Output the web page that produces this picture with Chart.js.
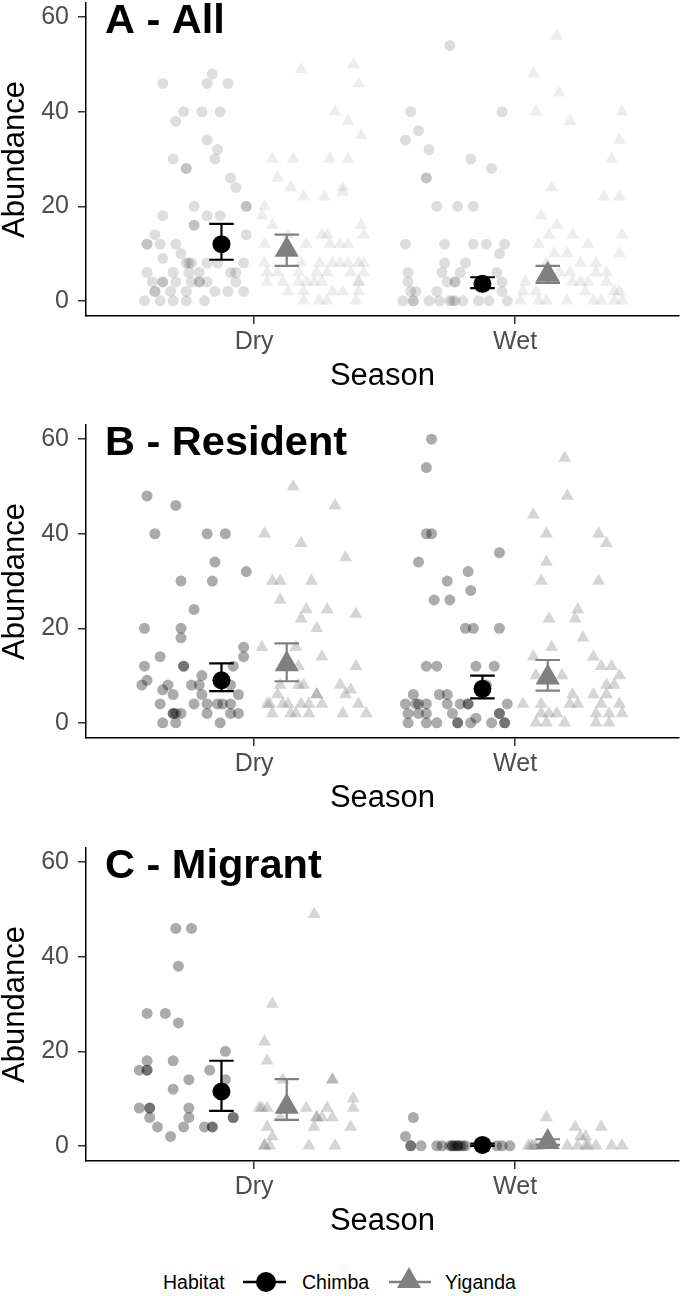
<!DOCTYPE html>
<html>
<head>
<meta charset="utf-8">
<script src="https://cdn.jsdelivr.net/npm/chart.js@4.4.1/dist/chart.umd.min.js"></script>
<style>
  body { margin: 0; background: #fff; width: 685px; height: 1296px; position: relative; overflow: hidden;
         font-family: "Liberation Sans", Arial, sans-serif; }
  .panel { position: absolute; left: 0; }
  .leg { position: absolute; font-size: 19.5px; line-height: 20px; color: #000; }
  .legsym { position: absolute; }
</style>
</head>
<body>
<canvas class="panel" id="panelA" width="685" height="410" style="top:0px"></canvas>
<canvas class="panel" id="panelB" width="685" height="410" style="top:422px"></canvas>
<canvas class="panel" id="panelC" width="685" height="410" style="top:845px"></canvas>

<span class="leg" style="left:163px; top:1272px">Habitat</span>
<svg class="legsym" style="left:240px; top:1270px" width="50" height="24">
  <line x1="3" y1="12" x2="46" y2="12" stroke="#000" stroke-width="2.5"/>
  <circle cx="26" cy="12" r="10" fill="#000"/>
</svg>
<span class="leg" style="left:302px; top:1272px">Chimba</span>
<svg class="legsym" style="left:385px; top:1266px" width="50" height="28">
  <line x1="4" y1="16" x2="46" y2="16" stroke="#808080" stroke-width="2.5"/>
  <polygon points="24,1 36,22 12,22" fill="#808080"/>
</svg>
<span class="leg" style="left:445px; top:1272px">Yiganda</span>

<script>
const seasons = ['Dry', 'Wet'];
const habitats = ['Chimba', 'Yiganda'];
const yTicks = [0, 20, 40, 60];
const panelTitles = ['A - All', 'B - Resident', 'C - Migrant'];
const dodge = 0.125;

// observations as [jittered x, abundance]; Dry sits at x=1, Wet at x=2

// A - all species
const allChimba = [
  [0.65,46],[0.84,48],[0.82,46],[0.90,46],[0.73,40],[0.70,38],[0.80,40],[0.87,40],[0.82,34],[0.86,32],
  [0.69,30],[0.85,30],[0.74,28],[0.74,28],[0.91,26],[0.93,24],[0.77,20],[0.97,20],[0.97,20],[0.65,18],
  [0.82,18],[0.87,18],[0.77,16],[0.77,16],[0.62,14],[0.97,14],[0.59,12],[0.59,12],[0.64,12],[0.70,12],
  [0.72,10],[0.65,9],[0.74,8],[0.75,8],[0.76,8],[0.82,8],[0.86,8],[0.96,8],[0.59,6],[0.69,6],
  [0.75,6],[0.79,6],[0.91,6],[0.93,6],[0.61,4],[0.65,4],[0.65,4],[0.70,4],[0.76,4],[0.79,4],
  [0.79,4],[0.82,4],[0.93,4],[0.62,2],[0.62,2],[0.68,2],[0.74,2],[0.85,2],[0.90,2],[0.96,2],
  [0.58,0],[0.64,0],[0.69,0],[0.74,0],[0.81,0],
  [1.75,54],[1.60,40],[1.95,40],[1.63,36],[1.58,34],[1.67,32],[1.83,30],[1.91,28],[1.66,26],[1.66,26],
  [1.70,20],[1.78,20],[1.84,20],[1.58,12],[1.73,12],[1.84,12],[1.89,12],[1.96,12],[1.94,10],[1.73,8],
  [1.81,8],[1.59,6],[1.72,6],[1.79,6],[1.93,6],[1.59,4],[1.74,4],[1.77,4],[1.77,4],[1.95,4],
  [1.60,2],[1.62,2],[1.70,2],[1.95,2],[1.57,0],[1.61,0],[1.61,0],[1.67,0],[1.71,0],[1.75,0],
  [1.76,0],[1.77,0],[1.80,0],[1.86,0],[1.90,0],[1.97,0]
];
const allYiganda = [
  [1.18,49],[1.38,50],[1.40,46],[1.31,40],[1.36,38],[1.41,35],[1.07,30],[1.15,30],[1.29,30],[1.36,30],
  [1.09,26],[1.14,24],[1.34,24],[1.19,22],[1.27,22],[1.34,23],[1.04,20],[1.03,18],[1.07,16],[1.41,16],
  [1.13,14],[1.26,14],[1.28,14],[1.42,14],[1.04,12],[1.20,12],[1.29,12],[1.33,12],[1.36,12],[1.04,8],
  [1.18,8],[1.25,8],[1.30,8],[1.33,8],[1.36,8],[1.40,8],[1.42,8],[1.05,6],[1.09,6],[1.17,6],
  [1.24,6],[1.28,6],[1.37,6],[1.42,6],[1.05,4],[1.11,4],[1.17,4],[1.20,4],[1.23,4],[1.26,4],
  [1.40,4],[1.40,4],[1.13,2],[1.19,2],[1.30,2],[1.34,2],[1.40,2],[1.19,0],[1.25,0],[1.28,0],[1.39,0],
  [2.16,56],[2.07,48],[2.17,44],[2.08,40],[2.21,38],[2.41,40],[2.40,34],[2.37,30],[2.14,24],[2.34,22],
  [2.40,22],[2.10,18],[2.16,16],[2.13,14],[2.22,14],[2.41,14],[2.09,12],[2.28,12],[2.15,10],[2.20,10],
  [2.40,10],[2.12,8],[2.25,8],[2.31,8],[2.17,6],[2.21,6],[2.31,6],[2.35,6],[2.04,4],[2.22,4],
  [2.25,4],[2.28,4],[2.35,4],[2.03,2],[2.08,2],[2.27,2],[2.38,2],[2.40,2],[2.02,0],[2.09,0],
  [2.12,0],[2.20,0],[2.30,0],[2.33,0],[2.38,0],[2.41,0]
];
const allChimbaMean = [12.0, 3.6];
const allChimbaLow = [8.7, 2.7];
const allChimbaHigh = [16.3, 5.0];
const allYigandaMean = [10.8, 5.5];
const allYigandaLow = [7.4, 3.8];
const allYigandaHigh = [14.0, 7.4];

// B - resident species
const resChimba = [
  [0.59,48],[0.70,46],[0.62,40],[0.82,40],[0.89,40],[0.85,34],[0.97,32],[0.72,30],[0.84,30],[0.77,24],
  [0.58,20],[0.72,20],[0.72,18],[0.96,16],[0.64,14],[0.96,14],[0.58,12],[0.73,12],[0.73,12],[0.92,12],
  [0.80,10],[0.59,9],[0.57,8],[0.67,8],[0.76,8],[0.79,8],[0.91,8],[0.65,7],[0.69,6],[0.80,6],
  [0.94,6],[0.64,4],[0.77,4],[0.82,4],[0.86,4],[0.88,4],[0.91,4],[0.69,2],[0.69,2],[0.70,2],
  [0.72,2],[0.82,2],[0.91,2],[0.94,2],[0.65,0],[0.70,0],[0.87,0],
  [1.68,60],[1.66,54],[1.66,40],[1.68,40],[1.63,34],[1.94,36],[1.82,32],[1.74,30],[1.83,28],[1.69,26],
  [1.75,26],[1.81,20],[1.84,20],[1.94,20],[1.66,12],[1.70,12],[1.85,12],[1.92,12],[1.89,8],[1.61,6],
  [1.71,6],[1.74,6],[1.58,4],[1.62,4],[1.63,4],[1.66,4],[1.74,4],[1.79,4],[1.82,4],[1.82,4],
  [1.97,4],[1.59,2],[1.63,2],[1.66,2],[1.76,2],[1.85,1],[1.94,2],[1.94,2],[1.59,0],[1.66,0],
  [1.70,0],[1.78,0],[1.78,0],[1.83,0],[1.91,0],[1.96,0],[1.96,0]
];
const resYiganda = [
  [1.15,50],[1.31,46],[1.04,40],[1.18,38],[1.35,35],[1.07,30],[1.10,30],[1.22,30],[1.10,26],[1.20,24],
  [1.28,24],[1.39,23],[1.18,22],[1.24,20],[1.03,16],[1.16,16],[1.26,14],[1.17,12],[1.39,12],[1.10,8],
  [1.17,8],[1.19,8],[1.33,8],[1.37,7],[1.09,6],[1.24,6],[1.24,6],[1.35,6],[1.05,4],[1.06,4],
  [1.11,4],[1.13,4],[1.18,4],[1.21,4],[1.26,4],[1.40,4],[1.07,2],[1.14,2],[1.16,2],[1.21,2],
  [1.34,2],[1.43,2],
  [2.19,56],[2.20,48],[2.07,44],[2.12,40],[2.32,40],[2.35,38],[2.12,34],[2.10,30],[2.32,30],[2.24,24],
  [2.13,22],[2.23,22],[2.26,18],[2.14,16],[2.07,14],[2.30,14],[2.33,12],[2.37,12],[2.08,10],[2.18,10],
  [2.40,10],[2.35,8],[2.38,8],[2.22,6],[2.30,6],[2.35,6],[2.03,4],[2.10,4],[2.21,4],[2.24,4],
  [2.33,4],[2.40,4],[2.10,2],[2.13,2],[2.16,2],[2.31,2],[2.36,2],[2.41,2],[2.08,0],[2.12,0],
  [2.19,0],[2.31,0],[2.36,0]
];
const resChimbaMean = [9.0, 7.2];
const resChimbaLow = [6.7, 5.2];
const resChimbaHigh = [12.6, 10.0];
const resYigandaMean = [12.4, 9.6];
const resYigandaLow = [8.8, 6.8];
const resYigandaHigh = [16.8, 13.3];

// C - migrant species
const migChimba = [
  [0.70,46],[0.76,46],[0.71,38],[0.59,28],[0.66,28],[0.71,26],[0.89,20],[0.59,18],[0.69,18],[0.56,16],
  [0.59,16],[0.59,16],[0.83,16],[0.75,14],[0.89,14],[0.69,12],[0.56,8],[0.60,8],[0.60,8],[0.75,8],
  [0.60,6],[0.75,6],[0.92,6],[0.92,6],[0.63,4],[0.73,4],[0.81,4],[0.84,4],[0.84,4],[0.68,2],
  [1.61,6],[1.58,2],[1.60,0],[1.60,0],[1.64,0],[1.70,0],[1.72,0],[1.75,0],[1.76,0],[1.76,0],
  [1.77,0],[1.78,0],[1.78,0],[1.79,0],[1.80,0],[1.81,0],[1.93,0],[1.95,0],[1.98,0]
];
const migYiganda = [
  [1.23,49],[1.07,30],[1.04,22],[1.05,18],[1.11,14],[1.30,14],[1.30,14],[1.38,10],[1.02,8],[1.03,8],
  [1.05,8],[1.20,8],[1.28,8],[1.38,8],[1.10,6],[1.24,6],[1.24,6],[1.26,6],[1.30,6],[1.05,4],
  [1.23,4],[1.37,4],[1.07,2],[1.04,0],[1.04,0],[1.06,0],[1.21,0],[1.31,0],
  [2.12,6],[2.23,4],[2.33,4],[2.25,2],[2.27,2],[2.05,0],[2.06,0],[2.07,0],[2.08,0],[2.10,0],
  [2.20,0],[2.24,0],[2.27,0],[2.28,0],[2.31,0],[2.37,0],[2.41,0]
];
const migChimbaMean = [11.5, 0.2];
const migChimbaLow = [7.4, 0.0];
const migChimbaHigh = [18.0, 0.5];
const migYigandaMean = [8.3, 0.8];
const migYigandaLow = [5.5, 0.2];
const migYigandaHigh = [14.1, 1.4];

Chart.defaults.font.family = '"Liberation Sans", Arial, sans-serif';

// error bars go between the raw points and the mean markers
const errorBars = {
  id: 'errorBars',
  afterDatasetDraw(chart, args, opts) {
    if (args.index !== 2) return;
    const ctx = chart.ctx, xs = chart.scales.x, ys = chart.scales.y;
    opts.bars.forEach(b => {
      b.low.forEach((lo, i) => {
        const xc = i + 1 + b.shift;
        const x = xs.getPixelForValue(xc);
        const x0 = xs.getPixelForValue(xc - 0.047), x1 = xs.getPixelForValue(xc + 0.047);
        const y0 = ys.getPixelForValue(lo), y1 = ys.getPixelForValue(b.high[i]);
        ctx.save();
        ctx.strokeStyle = b.color;
        ctx.lineWidth = 2.2;
        ctx.beginPath();
        ctx.moveTo(x, y0); ctx.lineTo(x, y1);
        ctx.moveTo(x0, y0); ctx.lineTo(x1, y0);
        ctx.moveTo(x0, y1); ctx.lineTo(x1, y1);
        ctx.stroke();
        ctx.restore();
      });
    });
  }
};

const panelTitle = {
  id: 'panelTitle',
  afterDraw(chart, args, opts) {
    const ctx = chart.ctx;
    ctx.save();
    ctx.font = 'bold 41.5px "Liberation Sans", Arial, sans-serif';
    ctx.fillStyle = '#000';
    ctx.textBaseline = 'alphabetic';
    ctx.fillText(opts.text, chart.chartArea.left + 19, chart.chartArea.top + 30);
    ctx.restore();
  }
};

function toPoints(arr) {
  return arr.map(p => ({ x: p[0], y: p[1] }));
}

function drawPanel(id, title, chimba, yiganda, cMean, cLow, cHigh, yMean, yLow, yHigh, dotColor, triColor) {
  const ctx = document.getElementById(id).getContext('2d');
  new Chart(ctx, {
    type: 'scatter',
    data: {
      datasets: [
        { label: habitats[0] + ' mean', data: cMean.map((v, i) => ({ x: i + 1 - dodge, y: v })),
          pointStyle: 'circle', pointRadius: 9, pointBackgroundColor: '#000', pointBorderWidth: 0 },
        { label: habitats[1] + ' mean', data: yMean.map((v, i) => ({ x: i + 1 + dodge, y: v })),
          pointStyle: 'triangle', pointRadius: 14, pointBackgroundColor: '#808080', pointBorderWidth: 0 },
        { label: habitats[0], data: toPoints(chimba),
          pointStyle: 'circle', pointRadius: 5.5, pointBackgroundColor: dotColor, pointBorderWidth: 0 },
        { label: habitats[1], data: toPoints(yiganda),
          pointStyle: 'triangle', pointRadius: 7.5, pointBackgroundColor: triColor, pointBorderWidth: 0 }
      ]
    },
    options: {
      responsive: false,
      animation: false,
      events: [],
      layout: { autoPadding: false, padding: { top: 3, right: 6, left: 0, bottom: 0 } },
      plugins: {
        legend: { display: false },
        tooltip: { enabled: false },
        panelTitle: { text: title },
        errorBars: { bars: [
          { low: cLow, high: cHigh, shift: -dodge, color: '#000' },
          { low: yLow, high: yHigh, shift: dodge, color: '#808080' }
        ] }
      },
      scales: {
        x: {
          type: 'linear', min: 0.356, max: 2.628,
          afterBuildTicks: s => { s.ticks = seasons.map((_, i) => ({ value: i + 1 })); },
          afterFit: s => { s.height = 94; s.paddingLeft = 0; s.paddingRight = 0; },
          ticks: { callback: v => seasons[v - 1], color: '#4d4d4d', font: { size: 25 }, padding: 3,
                   maxRotation: 0, autoSkip: false },
          grid: { drawOnChartArea: false, tickLength: 8, color: '#333', lineWidth: 1.5 },
          border: { color: '#000', width: 1.5 },
          title: { display: true, text: 'Season', color: '#000', font: { size: 31, lineHeight: 1 },
                   padding: { top: 0, bottom: 18 } }
        },
        y: {
          min: -3.2, max: 63,
          afterBuildTicks: s => { s.ticks = yTicks.map(v => ({ value: v })); },
          afterFit: s => { s.width = 86; s.paddingTop = 0; s.paddingBottom = 0; },
          ticks: { color: '#4d4d4d', font: { size: 25 }, padding: 9 },
          grid: { drawOnChartArea: false, tickLength: 8, color: '#333', lineWidth: 1.5 },
          border: { color: '#000', width: 1.5 },
          title: { display: true, text: 'Abundance', color: '#000', font: { size: 31, lineHeight: 1 },
                   padding: { top: 0, bottom: 0 } }
        }
      }
    },
    plugins: [errorBars, panelTitle]
  });
}

drawPanel('panelA', panelTitles[0], allChimba, allYiganda,
  allChimbaMean, allChimbaLow, allChimbaHigh, allYigandaMean, allYigandaLow, allYigandaHigh,
  'rgba(0,0,0,0.13)', 'rgba(128,128,128,0.14)');
drawPanel('panelB', panelTitles[1], resChimba, resYiganda,
  resChimbaMean, resChimbaLow, resChimbaHigh, resYigandaMean, resYigandaLow, resYigandaHigh,
  'rgba(0,0,0,0.33)', 'rgba(128,128,128,0.33)');
drawPanel('panelC', panelTitles[2], migChimba, migYiganda,
  migChimbaMean, migChimbaLow, migChimbaHigh, migYigandaMean, migYigandaLow, migYigandaHigh,
  'rgba(0,0,0,0.33)', 'rgba(128,128,128,0.33)');
</script>
</body>
</html>
